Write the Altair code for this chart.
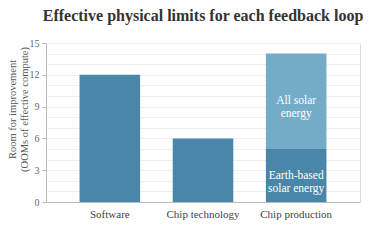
import altair as alt
import pandas as pd

categories = ["Software", "Chip technology", "Chip production", "Chip production"]
segments = ["Main", "Main", "Earth-based solar energy", "All solar energy"]
values = [12, 6, 5, 9]
seg_labels = ["", "", "Earth-based\nsolar energy", "All solar\nenergy"]
grid_values = list(range(0, 16))

rows = []
base = {}
for c, s, v, l in zip(categories, segments, values, seg_labels):
    b = base.get(c, 0)
    rows.append({"cat": c, "seg": s, "lo": b, "hi": b + v, "mid": b + v / 2, "label": l})
    base[c] = b + v
df = pd.DataFrame(rows)

FONT = "Liberation Serif"
order = ["Software", "Chip technology", "Chip production"]

xscale = alt.Scale(domain=order, paddingInner=0.35, paddingOuter=0.36)
yscale = alt.Scale(domain=[0, 15], nice=False)

yaxis = alt.Axis(values=grid_values, tickCount=len(grid_values), grid=True, gridColor="#efefef",
                 labelExpr="datum.value % 3 === 0 ? datum.label : ''",
                 labelFont=FONT, labelFontSize=10, labelOverlap=False,
                 labelColor="#666666", titleFont=FONT, titleFontSize=10.5,
                 titleFontWeight="normal", titleColor="#555555", domainColor="#bbbbbb",
                 tickColor={"condition": {"test": "datum.value % 3 === 0", "value": "#bbbbbb"},
                            "value": "rgba(0,0,0,0)"},
                 tickSize=4, labelPadding=3, titlePadding=0, titleY=66, titleLineHeight=12)
ytitle = ["Room for improvement", "(OOMs of effective compute)"]

bars = alt.Chart(df).mark_bar().encode(
    x=alt.X("cat:N", scale=xscale, sort=order, title=None,
            axis=alt.Axis(labelAngle=0, labelFont=FONT, labelFontSize=11, labelColor="#444444",
                          ticks=False, domainColor="#bbbbbb", labelPadding=6, grid=False)),
    y=alt.Y("lo:Q", scale=yscale, title=ytitle, axis=yaxis),
    y2="hi:Q",
    color=alt.Color("seg:N", scale=alt.Scale(
        domain=["Main", "Earth-based solar energy", "All solar energy"],
        range=["#4a86a8", "#4a86a8", "#74abc7"]), legend=None),
)

text = alt.Chart(df).transform_filter("datum.label != ''").mark_text(
    color="white", font=FONT, fontSize=11.5, lineBreak="\n", baseline="middle", lineHeight=13
).encode(
    x=alt.X("cat:N", scale=xscale, sort=order),
    y=alt.Y("mid:Q", scale=yscale),
    text="label:N",
)

chart = alt.layer(bars, text).properties(
    width=314, height=159,
    title=alt.TitleParams("Effective physical limits for each feedback loop", font=FONT,
                          fontSize=16, fontWeight="bold", color="#333333", anchor="middle", offset=14),
    autosize=alt.AutoSizeParams(type="none"),
    padding={"left": 46, "top": 43, "right": 24, "bottom": 39},
).configure_view(stroke=None).configure(background="white")

chart.save("out.html", embed_options={"renderer": "svg", "actions": False})
